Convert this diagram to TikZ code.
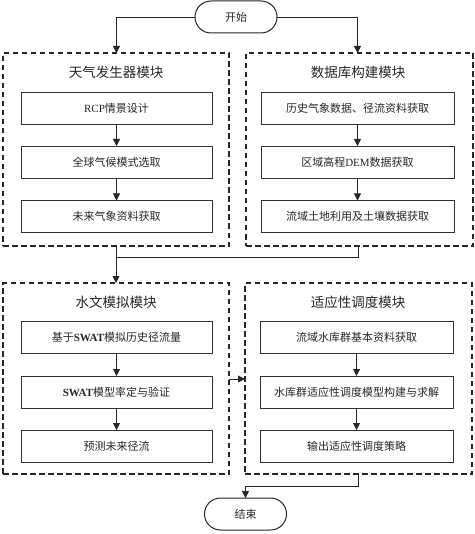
\documentclass[tikz,border=0pt]{standalone}
\usepackage{fontspec}
\setmainfont{Noto Sans CJK SC}
\newfontfamily\lat{Liberation Serif}
\usetikzlibrary{arrows.meta,positioning}
\begin{document}
\begin{tikzpicture}[x=1pt,y=-1pt,
  every node/.style={inner sep=0pt,outer sep=0pt},
  conn/.style={draw=black!85,line width=0.8pt},
  arr/.style={conn,-{Triangle[length=7pt,width=7pt]}},
  module/.style={draw=black!85,line width=1.4pt,dash pattern=on 5.5pt off 3.5pt},
  stepbox/.style={draw=black!80,line width=0.8pt,minimum height=32pt,font=\fontsize{11}{13}\selectfont,text=black!85},
  lbox/.style={stepbox,minimum width=191pt},
  rbox/.style={stepbox,minimum width=193pt},
  modtitle/.style={font=\fontsize{13.5}{15}\selectfont,text=black!85},
  term/.style={draw=black!85,line width=1pt,rounded corners=16pt,minimum width=82pt,minimum height=32pt,font=\fontsize{11}{13}\selectfont,text=black!85}
]
\useasboundingbox (0,0) rectangle (474,534);
% start
\node[term] (start) at (236,17) {开始};
% modules
\node[module,minimum width=226pt,minimum height=193pt] (m1) at (116,149.5) {};
\node[module,minimum width=227pt,minimum height=193pt] (m2) at (359.5,149.5) {};
\node[module,minimum width=226pt,minimum height=191pt] (m3) at (116,378.5) {};
\node[module,minimum width=227pt,minimum height=191pt] (m4) at (358.5,378.5) {};
% titles
\node[modtitle] (t1) at (116,72) {天气发生器模块};
\node[modtitle] (t2) at (358,72) {数据库构建模块};
\node[modtitle] (t3) at (116,302) {水文模拟模块};
\node[modtitle] (t4) at (358,302) {适应性调度模块};
% module 1
\node[lbox] (a1) at (116.5,108) {{\lat RCP}情景设计};
\node[lbox] (a2) at (116.5,162) {全球气候模式选取};
\node[lbox] (a3) at (116.5,216.5) {未来气象资料获取};
% module 2
\node[rbox] (b1) at (357.5,108) {历史气象数据、径流资料获取};
\node[rbox] (b2) at (357.5,162) {区域高程{\lat DEM}数据获取};
\node[rbox] (b3) at (357.5,216.5) {流域土地利用及土壤数据获取};
% module 3
\node[lbox] (c1) at (116.5,337) {基于{\lat\bfseries SWAT}模拟历史径流量};
\node[lbox] (c2) at (116.5,392) {{\lat\bfseries SWAT}模型率定与验证};
\node[lbox] (c3) at (116.5,446) {预测未来径流};
% module 4
\node[rbox] (d1) at (356.5,337) {流域水库群基本资料获取};
\node[rbox] (d2) at (356.5,392) {水库群适应性调度模型构建与求解};
\node[rbox] (d3) at (356.5,446) {输出适应性调度策略};
% end
\node[term] (end) at (245.5,514) {结束};
% connectors
\draw[arr] (start.west) -| (m1.north -| a1.north);
\draw[arr] (start.east) -| (m2.north -| b1.north);
\draw[arr] (a1) -- (a2);
\draw[arr] (a2) -- (a3);
\draw[arr] (b1) -- (b2);
\draw[arr] (b2) -- (b3);
\coordinate (jl) at (116,257);
\coordinate (jr) at (358,257);
\draw[conn] (m1.south -| jl) -- (jl) -- (jr) -- (m2.south -| jr);
\draw[arr] (jl) -- (m3.north -| jl);
\draw[arr] (c1) -- (c2);
\draw[arr] (c2) -- (c3);
\draw[arr] (d1) -- (d2);
\draw[arr] (d2) -- (d3);
\coordinate (mid) at (0,379);
\draw[arr] (m3.east |- mid) -- (m4.west |- mid);
\coordinate (jd) at (358,486);
\draw[arr] (m4.south -| jd) -- (jd) -| (end.north);
\end{tikzpicture}
\end{document}
